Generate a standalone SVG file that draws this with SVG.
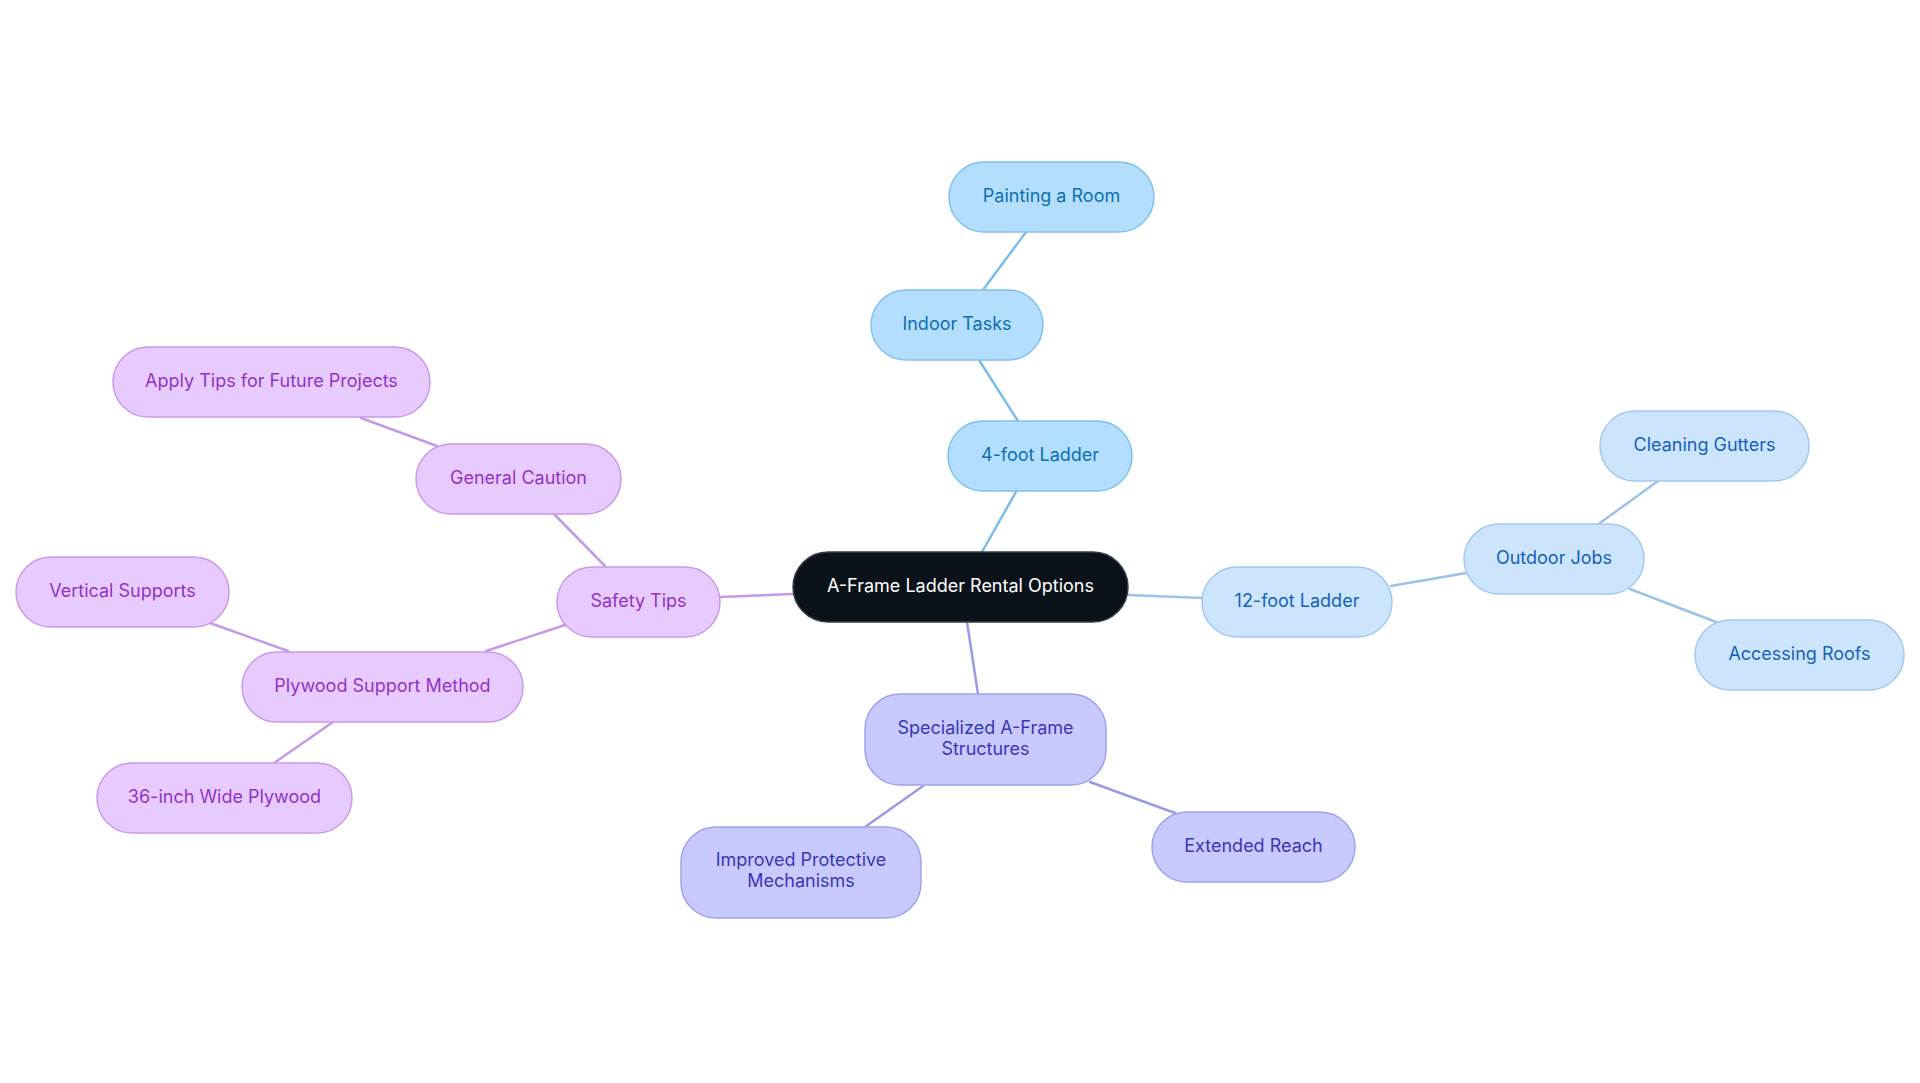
<svg xmlns="http://www.w3.org/2000/svg" width="1920" height="1083" viewBox="0 0 1920 1083">
<style>
text{font-family:Inter,"Noto Sans","Liberation Sans",sans-serif;font-size:18px;text-anchor:middle;dominant-baseline:central}
.c line{stroke-width:2.5;stroke-linecap:round}
.b1 rect{fill:#b3defd;stroke:#82c0ec;stroke-width:1.5}
.b1 text{fill:#0c6fb3}
.b2 rect{fill:#cde5fc;stroke:#a3c7ef;stroke-width:1.5}
.b2 text{fill:#1560bd}
.b3 rect{fill:#c8caff;stroke:#9fa2ea;stroke-width:1.5}
.b3 text{fill:#3a37b5}
.b4 rect{fill:#e8cbfe;stroke:#c999ec;stroke-width:1.5}
.b4 text{fill:#9232c8}
.root rect{fill:#0c121a;stroke:#3a3f47;stroke-width:1.5}
.root text{fill:#ffffff}
</style>
<rect width="1920" height="1083" fill="#ffffff"/>
<g id="connectors" class="c">
<line x1="982" y1="552" x2="1017" y2="490" stroke="#7cbde8"/>
<line x1="979" y1="360" x2="1018" y2="421" stroke="#7cbde8"/>
<line x1="1026" y1="232" x2="983" y2="290" stroke="#7cbde8"/>
<line x1="1129" y1="595" x2="1202" y2="598" stroke="#9cc2e8"/>
<line x1="1391" y1="586" x2="1466" y2="573" stroke="#9cc2e8"/>
<line x1="1600" y1="523" x2="1658" y2="481" stroke="#9cc2e8"/>
<line x1="1630" y1="589" x2="1716" y2="622" stroke="#9cc2e8"/>
<line x1="967" y1="622" x2="978" y2="694" stroke="#9a9be6"/>
<line x1="923" y1="786" x2="865" y2="827" stroke="#9a9be6"/>
<line x1="1090" y1="782" x2="1175" y2="813" stroke="#9a9be6"/>
<line x1="793" y1="594" x2="720" y2="597" stroke="#c39ae6"/>
<line x1="605" y1="566" x2="554" y2="514" stroke="#c39ae6"/>
<line x1="437" y1="446" x2="361" y2="418" stroke="#c39ae6"/>
<line x1="565" y1="625" x2="486" y2="651" stroke="#c39ae6"/>
<line x1="210" y1="623" x2="288" y2="651" stroke="#c39ae6"/>
<line x1="333" y1="722" x2="274" y2="763" stroke="#c39ae6"/>
</g>
<g id="root" class="root"><rect x="793" y="552" width="335" height="70" rx="35"/><text x="960.5" y="585">A-Frame Ladder Rental Options</text></g>
<g id="four-foot" class="b1"><rect x="948" y="421" width="184" height="70" rx="35"/><text x="1040" y="454">4-foot Ladder</text></g>
<g id="indoor" class="b1"><rect x="871" y="290" width="172" height="70" rx="35"/><text x="957" y="323">Indoor Tasks</text></g>
<g id="painting" class="b1"><rect x="949" y="162" width="205" height="70" rx="35"/><text x="1051.5" y="195">Painting a Room</text></g>
<g id="twelve-foot" class="b2"><rect x="1202" y="567" width="190" height="70" rx="35"/><text x="1297" y="600">12-foot Ladder</text></g>
<g id="outdoor" class="b2"><rect x="1464" y="524" width="180" height="70" rx="35"/><text x="1554" y="557">Outdoor Jobs</text></g>
<g id="gutters" class="b2"><rect x="1600" y="411" width="209" height="70" rx="35"/><text x="1704.5" y="444">Cleaning Gutters</text></g>
<g id="roofs" class="b2"><rect x="1695" y="620" width="209" height="70" rx="35"/><text x="1799.5" y="653">Accessing Roofs</text></g>
<g id="specialized" class="b3"><rect x="865" y="694" width="241" height="91" rx="35"/><text x="985.5" y="727">Specialized A-Frame</text><text x="985.5" y="748">Structures</text></g>
<g id="improved" class="b3"><rect x="681" y="827" width="240" height="91" rx="35"/><text x="801" y="859">Improved Protective</text><text x="801" y="880">Mechanisms</text></g>
<g id="extended" class="b3"><rect x="1152" y="812" width="203" height="70" rx="35"/><text x="1253.5" y="845">Extended Reach</text></g>
<g id="safety" class="b4"><rect x="557" y="567" width="163" height="70" rx="35"/><text x="638.5" y="600">Safety Tips</text></g>
<g id="general" class="b4"><rect x="416" y="444" width="205" height="70" rx="35"/><text x="518.5" y="477">General Caution</text></g>
<g id="apply" class="b4"><rect x="113" y="347" width="317" height="70" rx="35"/><text x="271.5" y="380">Apply Tips for Future Projects</text></g>
<g id="plywood" class="b4"><rect x="242" y="652" width="281" height="70" rx="35"/><text x="382.5" y="685">Plywood Support Method</text></g>
<g id="vertical" class="b4"><rect x="16" y="557" width="213" height="70" rx="35"/><text x="122.5" y="590">Vertical Supports</text></g>
<g id="plywood36" class="b4"><rect x="97" y="763" width="255" height="70" rx="35"/><text x="224.5" y="796">36-inch Wide Plywood</text></g>
</svg>
